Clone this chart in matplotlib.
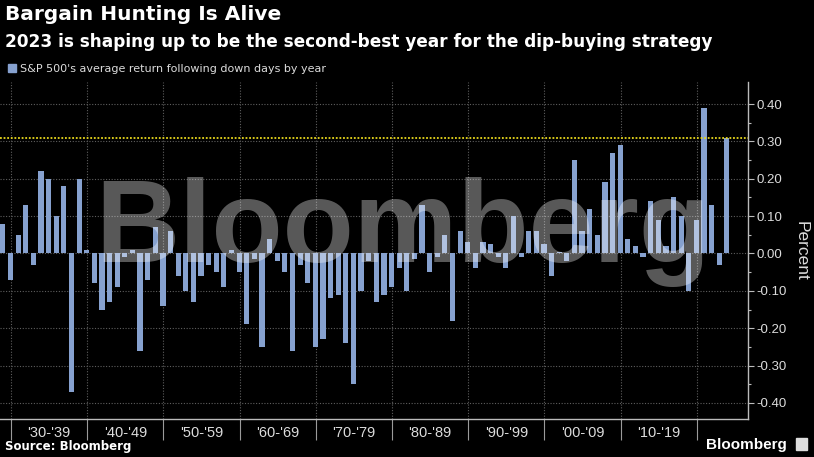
import matplotlib.pyplot as plt
from matplotlib.patches import Patch, Rectangle

# --- data (percent) ---
years = list(range(1928, 2024))
avg_return = [
    0.08, -0.07,                                                        # 1928-29
    0.05, 0.13, -0.03, 0.22, 0.20, 0.10, 0.18, -0.37, 0.20, 0.01,       # 1930s
    -0.08, -0.15, -0.13, -0.09, -0.01, 0.01, -0.26, -0.07, 0.07, -0.14,  # 1940s
    0.06, -0.06, -0.10, -0.13, -0.06, -0.03, -0.05, -0.09, 0.01, -0.05,  # 1950s
    -0.19, -0.015, -0.25, 0.04, -0.02, -0.05, -0.26, -0.03, -0.08, -0.25,  # 1960s
    -0.23, -0.12, -0.11, -0.24, -0.35, -0.10, -0.02, -0.13, -0.11, -0.09,  # 1970s
    -0.04, -0.10, -0.015, 0.13, -0.05, -0.01, 0.05, -0.18, 0.06, 0.03,   # 1980s
    -0.04, 0.03, 0.025, -0.01, -0.04, 0.10, -0.01, 0.06, 0.06, 0.025,    # 1990s
    -0.06, 0.005, -0.02, 0.25, 0.06, 0.12, 0.05, 0.19, 0.27, 0.29,       # 2000s
    0.04, 0.02, -0.01, 0.14, 0.09, 0.02, 0.15, 0.10, -0.10, 0.09,        # 2010s
    0.39, 0.13, -0.03, 0.31,                                            # 2020-23
]
current_level = 0.31
decade_starts = list(range(1930, 2030, 10))
decade_labels = ["'30-'39", "'40-'49", "'50-'59", "'60-'69", "'70-'79",
                 "'80-'89", "'90-'99", "'00-'09", "'10-'19"]
yticks = [0.40, 0.30, 0.20, 0.10, 0.00, -0.10, -0.20, -0.30, -0.40]

bar_color = '#86a1cf'
text_color = '#dcdcdc'
grid_color = '#5e5e5e'

fig = plt.figure(figsize=(8.14, 4.57), dpi=100, facecolor='black')
ax = fig.add_axes([0.0, 0.0832, 0.919, 0.7374])
ax.set_facecolor('black')

# bars sit at the year-end, gridlines at decade starts
xpos = [y + 0.94 for y in years]
ax.bar(xpos, avg_return, width=0.68, color=bar_color, zorder=2)
ax.axhline(current_level, color='#e8d81c', lw=1.3, ls=(0, (1, 1)), zorder=3)

ax.set_xlim(1928.56, 2026.72)
ax.set_ylim(-0.443, 0.459)

# y axis on the right
ax.yaxis.tick_right()
ax.yaxis.set_label_position('right')
ax.set_yticks(yticks)
ax.set_yticklabels([f'{v:.2f}' for v in yticks])
ax.set_yticks([v + 0.05 for v in yticks[1:]], minor=True)
ax.tick_params(axis='y', which='major', colors='#bbbbbb', length=4, width=0.8,
               labelcolor=text_color, labelsize=9.5, pad=2)
ax.tick_params(axis='y', which='minor', colors='#bbbbbb', length=2.5, width=0.8)
for lab in ax.get_yticklabels():
    lab.set_family('Liberation Sans')
ax.set_ylabel('Percent', rotation=270, color=text_color, fontsize=12.5,
              family='Liberation Sans', labelpad=16)

# x axis: decade separators + centred labels
ax.set_xticks(decade_starts)
ax.set_xticklabels([])
ax.set_xticks([d + 5 for d in decade_starts[:-1]], minor=True)
ax.set_xticklabels(decade_labels, minor=True)
ax.tick_params(axis='x', which='major', colors='#9a9a9a', length=15, width=0.8)
ax.tick_params(axis='x', which='minor', length=0, labelcolor=text_color,
               labelsize=10.5, pad=5)
for lab in ax.get_xticklabels(minor=True):
    lab.set_family('Liberation Sans')

ax.grid(True, which='major', color=grid_color, ls=(0, (1, 1.5)), lw=0.8, zorder=0)
ax.set_axisbelow(True)
for side in ['top', 'left']:
    ax.spines[side].set_visible(False)
for side in ['right', 'bottom']:
    ax.spines[side].set_color('#bbbbbb')
    ax.spines[side].set_linewidth(1.0)

# titles, legend, footer
fig.text(0.006, 0.988, 'Bargain Hunting Is Alive', color='white', fontsize=14.5,
         fontweight='bold', va='top')
fig.text(0.006, 0.928, '2023 is shaping up to be the second-best year for the dip-buying strategy',
         color='white', fontsize=12.2, fontweight='bold', va='top')
fig.legend(handles=[Patch(color=bar_color)],
           labels=["S&P 500's average return following down days by year"],
           loc='center left', bbox_to_anchor=(0.0, 0.849), frameon=False,
           handlelength=0.7, handleheight=0.7, handletextpad=0.4,
           borderaxespad=0.3, labelcolor=text_color, fontsize=8)
fig.text(0.006, 0.008, 'Source: Bloomberg', color='white', fontsize=8.5,
         fontweight='bold', va='bottom')
fig.text(0.966, 0.010, 'Bloomberg', color='white', fontsize=11,
         fontweight='bold', family='Liberation Sans', ha='right', va='bottom')
# small logo square next to the footer name
fig.patches.append(Rectangle((796 / 814, 7 / 457), 11 / 814, 12 / 457,
                             transform=fig.transFigure, color='#dddddd'))

# watermark
fig.text(95 / 814, 1 - 262 / 457, 'Bloomberg', color='white', alpha=0.35,
         fontsize=84, fontweight='bold', family='Liberation Sans',
         ha='left', va='baseline')

fig.savefig('out.png', dpi=100, facecolor='black')
